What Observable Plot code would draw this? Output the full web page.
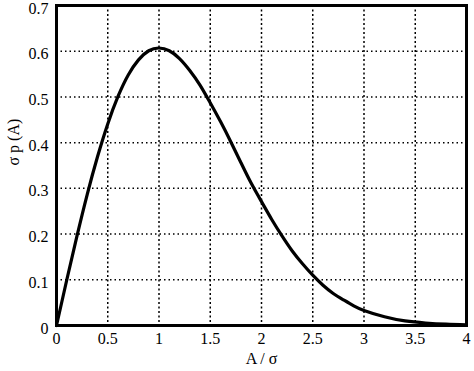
<!DOCTYPE html>
<html><head><meta charset="utf-8">
<script src="https://cdn.jsdelivr.net/npm/d3@7"></script>
<script src="https://cdn.jsdelivr.net/npm/@observablehq/plot@0.6"></script>
<style>body{margin:0;background:#fff} svg text{font-family:"Liberation Serif","Times New Roman","DejaVu Serif",serif !important;}</style>
</head><body><div id="chart"></div>
<script>
const xs = [0,0.1,0.2,0.3,0.4,0.5,0.6,0.7,0.8,0.9,1.0,1.1,1.2,1.3,1.4,1.5,1.6,1.7,1.8,1.9,2.0,2.1,2.2,2.3,2.4,2.5,2.6,2.7,2.8,2.9,3.0,3.2,3.4,3.6,3.8,4.0];
const ys = [0,0.0995,0.196,0.287,0.369,0.441,0.501,0.548,0.581,0.601,0.607,0.601,0.584,0.558,0.526,0.487,0.446,0.402,0.356,0.311,0.271,0.232,0.196,0.163,0.135,0.110,0.088,0.070,0.056,0.043,0.033,0.019,0.010,0.0055,0.0028,0.0013];
const xTicks = [0,0.5,1,1.5,2,2.5,3,3.5,4];
const yTicks = [0,0.1,0.2,0.3,0.4,0.5,0.6,0.7];
const data = xs.map((x,i)=>({x, y: ys[i]}));
const chart = Plot.plot({
  width: 474, height: 371,
  marginLeft: 56, marginRight: 8, marginTop: 5, marginBottom: 46,
  style: {fontFamily: "Liberation Serif, DejaVu Serif, serif", fontSize: "16px", color: "#000", background: "#fff"},
  x: {domain: [0,4], ticks: xTicks, tickFormat: d => String(d), label: null},
  y: {domain: [0,0.7], ticks: yTicks, tickFormat: d => String(d), label: null},
  marks: [
    Plot.ruleX(xTicks.slice(1,-1), {stroke: "#000", strokeWidth: 1.5, strokeDasharray: "2,2.5"}),
    Plot.ruleY(yTicks.slice(1,-1), {stroke: "#000", strokeWidth: 1.5, strokeDasharray: "1.5,3"}),
    Plot.axisX({ticks: xTicks, tickSize: 0, tickPadding: 7, tickFormat: d => String(d), fontSize: 16}),
    Plot.axisY({ticks: yTicks, tickSize: 0, tickPadding: 8, dy: 3, tickFormat: d => String(d), fontSize: 16}),
    Plot.line(data, {x: "x", y: "y", stroke: "#000", strokeWidth: 3.2, curve: "natural"}),
    Plot.frame({stroke: "#000", strokeWidth: 3}),
    Plot.text(["A / σ"], {frameAnchor: "bottom", dy: 38, fontSize: 16}),
    Plot.text(["σ p (A)"], {frameAnchor: "left", dx: -43, rotate: -90, fontSize: 16})
  ]
});
document.getElementById("chart").append(chart);
</script></body></html>
